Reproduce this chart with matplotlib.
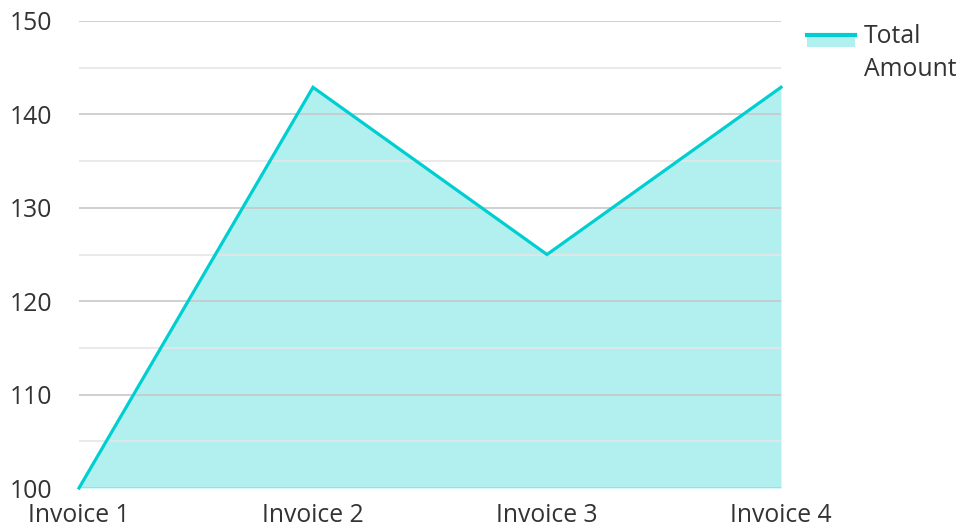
import numpy as np
import matplotlib.pyplot as plt
from matplotlib.legend_handler import HandlerBase
from matplotlib.patches import Rectangle
from matplotlib.lines import Line2D

invoices = ["Invoice 1", "Invoice 2", "Invoice 3", "Invoice 4"]
total_amount = [100, 142.9, 125, 142.9]
y_ticks = [100, 110, 120, 130, 140, 150]

LINE_COLOR = "#00CED1"
FILL_COLOR = "#B2F0F0"
TEXT_COLOR = "#333333"
FS = 17.8

plt.rcParams['font.family'] = ['Open Sans', 'DejaVu Sans']


class AreaHandler(HandlerBase):
    '''Legend key: filled block with the line along its top edge,
    sitting level with the first line of the label.'''
    def create_artists(self, legend, orig_handle, xdescent, ydescent,
                       width, height, fontsize, trans):
        top = -ydescent + height
        line_y = top - 0.14 * fontsize
        rect = Rectangle((-xdescent, line_y - 0.5 * fontsize), width,
                         0.5 * fontsize, facecolor=FILL_COLOR,
                         edgecolor="none", transform=trans)
        line = Line2D([-xdescent, -xdescent + width], [line_y, line_y],
                      color=LINE_COLOR, lw=3, transform=trans)
        return [rect, line]


fig = plt.figure(figsize=(9.63, 5.29), dpi=100)
ax = fig.add_axes([79 / 963, 1 - 488 / 529, (781 - 79) / 963, (488 - 21) / 529])

x = np.arange(len(invoices))
ax.fill_between(x, total_amount, 100, color=FILL_COLOR, lw=0, zorder=1)
line, = ax.plot(x, total_amount, color=LINE_COLOR, lw=2.3, zorder=3,
                solid_joinstyle="miter", clip_on=False)

ax.set_xlim(0, len(invoices) - 1)
ax.set_ylim(100, 150)
ax.set_xticks(x)
ax.set_xticklabels(invoices)
ax.set_yticks(y_ticks)
ax.set_yticks(np.arange(105, 150, 10), minor=True)

ax.set_axisbelow(False)
ax.grid(axis="y", which="major", color="#c8c8c8", lw=1.2, zorder=2)
ax.grid(axis="y", which="minor", color="#e6e6e6", lw=1.2, zorder=2)
ax.grid(axis="x", visible=False)
for s in ax.spines.values():
    s.set_visible(False)

ax.tick_params(axis="y", which="both", length=0, pad=19, labelsize=FS,
               labelcolor=TEXT_COLOR)
ax.tick_params(axis="x", which="both", length=0, pad=10.5, labelsize=FS,
               labelcolor=TEXT_COLOR)

leg = fig.legend([line], ["Total\nAmount"], handler_map={line: AreaHandler()},
                 loc="upper left", bbox_to_anchor=(807 / 963, 1 - 24 / 529),
                 frameon=False, handlelength=1.95, handleheight=2.6,
                 handletextpad=0.36, borderpad=0, borderaxespad=0,
                 labelcolor=TEXT_COLOR,
                 prop={'family': ['Open Sans', 'DejaVu Sans'], 'size': FS})
for t in leg.get_texts():
    t.set_linespacing(1.43)

fig.savefig("out.png", dpi=100)
